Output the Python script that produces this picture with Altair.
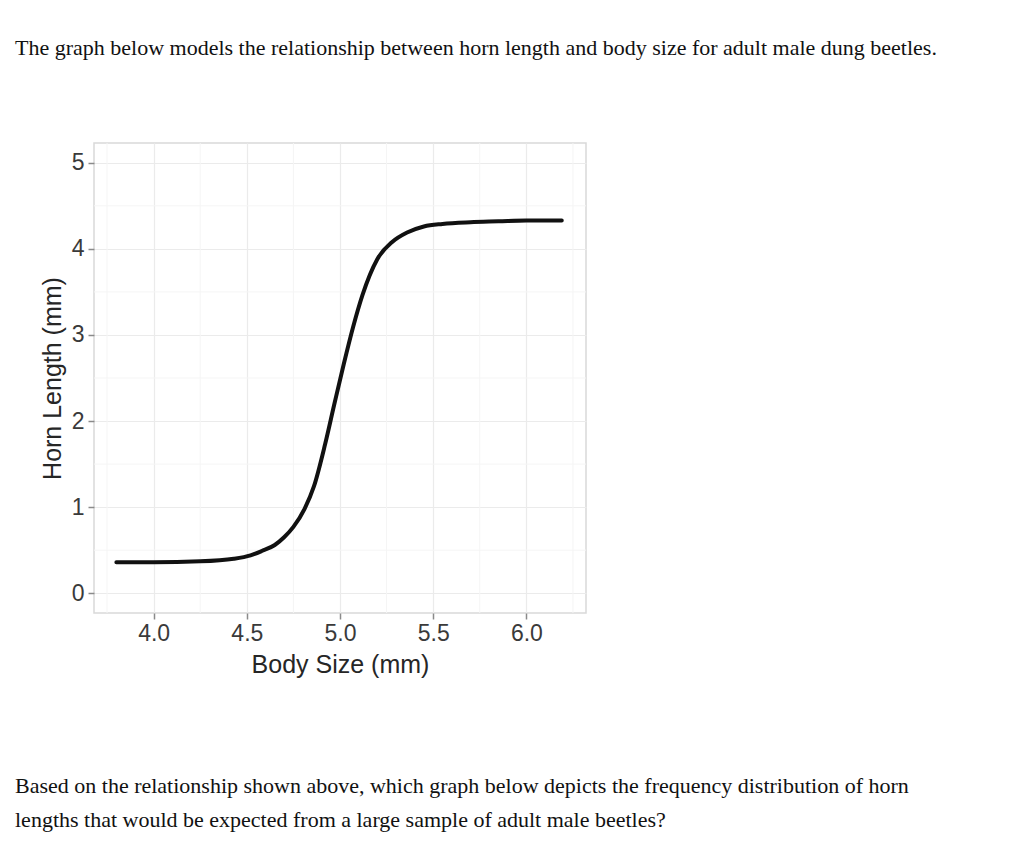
import altair as alt
import pandas as pd

# Curve
body_size = [3.80, 4.00, 4.25, 4.43, 4.52, 4.58, 4.65, 4.70, 4.75, 4.81, 4.86,
             4.92, 4.97, 5.02, 5.07, 5.12, 5.20, 5.28, 5.36, 5.45, 5.55, 5.70, 5.85, 6.00, 6.19]
horn_length = [0.36, 0.36, 0.37, 0.40, 0.44, 0.49, 0.56, 0.65, 0.77, 0.98, 1.24,
               1.73, 2.20, 2.66, 3.09, 3.46, 3.88, 4.08, 4.19, 4.26, 4.29, 4.31, 4.32, 4.33, 4.33]

x_ticks = [4.0, 4.5, 5.0, 5.5, 6.0]
y_ticks = [0, 1, 2, 3, 4, 5]
x_minor = [3.75, 4.25, 4.75, 5.25, 5.75, 6.25]
y_minor = [0.5, 1.5, 2.5, 3.5, 4.5]

top_text = "The graph below models the relationship between horn length and body size for adult male dung beetles."
bottom_lines = [
    "Based on the relationship shown above, which graph below depicts the frequency distribution of horn",
    "lengths that would be expected from a large sample of adult male beetles?",
]

curve = pd.DataFrame({"x": body_size, "y": horn_length})

xscale = alt.Scale(domain=[3.68, 6.32], nice=False, zero=False)
yscale = alt.Scale(domain=[-0.23, 5.23], nice=False, zero=False)

xaxis = alt.Axis(values=x_ticks, format=".1f", title="Body Size (mm)",
                 grid=True, gridColor="#ebebeb", gridWidth=1.2,
                 domain=False, tickColor="#8a8a8a", tickSize=6, tickWidth=1.5,
                 labelFont="Liberation Sans", labelFontSize=23, labelColor="#3a3a3a",
                 labelPadding=3,
                 titleFont="Liberation Sans", titleFontSize=25, titleFontWeight="normal",
                 titleColor="#262626", titleY=59, titleBaseline="alphabetic")
yaxis = alt.Axis(values=y_ticks, format="d", title="Horn Length (mm)",
                 grid=True, gridColor="#ebebeb", gridWidth=1.2,
                 domain=False, tickColor="#8a8a8a", tickSize=6, tickWidth=1.5,
                 labelFont="Liberation Sans", labelFontSize=23, labelColor="#3a3a3a",
                 labelPadding=4,
                 titleFont="Liberation Sans", titleFontSize=25, titleFontWeight="normal",
                 titleColor="#262626", titleX=-42, titleY=235, titleAngle=-90,
                 titleBaseline="middle", titleAlign="center")

minor_x = alt.Chart(pd.DataFrame({"x": x_minor})).mark_rule(
    color="#f5f5f5", strokeWidth=1).encode(x=alt.X("x:Q", scale=xscale, axis=xaxis))
minor_y = alt.Chart(pd.DataFrame({"y": y_minor})).mark_rule(
    color="#f5f5f5", strokeWidth=1).encode(y=alt.Y("y:Q", scale=yscale, axis=yaxis))

line = alt.Chart(curve).mark_line(
    color="#111111", strokeWidth=4, interpolate="monotone", strokeCap="round"
).encode(
    x=alt.X("x:Q", scale=xscale, axis=xaxis),
    y=alt.Y("y:Q", scale=yscale, axis=yaxis),
)

serif = dict(font="Liberation Serif", fontSize=22, color="#111111",
             align="left", baseline="alphabetic")

t_top = alt.Chart(pd.DataFrame({"t": [top_text]})).mark_text(**serif).encode(
    text="t:N", x=alt.value(-79), y=alt.value(-88))
t_b1 = alt.Chart(pd.DataFrame({"t": [bottom_lines[0]]})).mark_text(**serif).encode(
    text="t:N", x=alt.value(-79), y=alt.value(650))
t_b2 = alt.Chart(pd.DataFrame({"t": [bottom_lines[1]]})).mark_text(**serif).encode(
    text="t:N", x=alt.value(-79), y=alt.value(684))

chart = alt.layer(minor_x, minor_y, line, t_top, t_b1, t_b2).properties(
    width=492, height=470,
    autosize=alt.AutoSizeParams(type="none"),
    padding={"left": 94, "top": 143, "right": 438, "bottom": 249},
    background="white",
).configure_view(stroke="#d9d9d9", strokeWidth=1.5)

chart.save("out.html", embed_options={"renderer": "svg", "actions": False})
